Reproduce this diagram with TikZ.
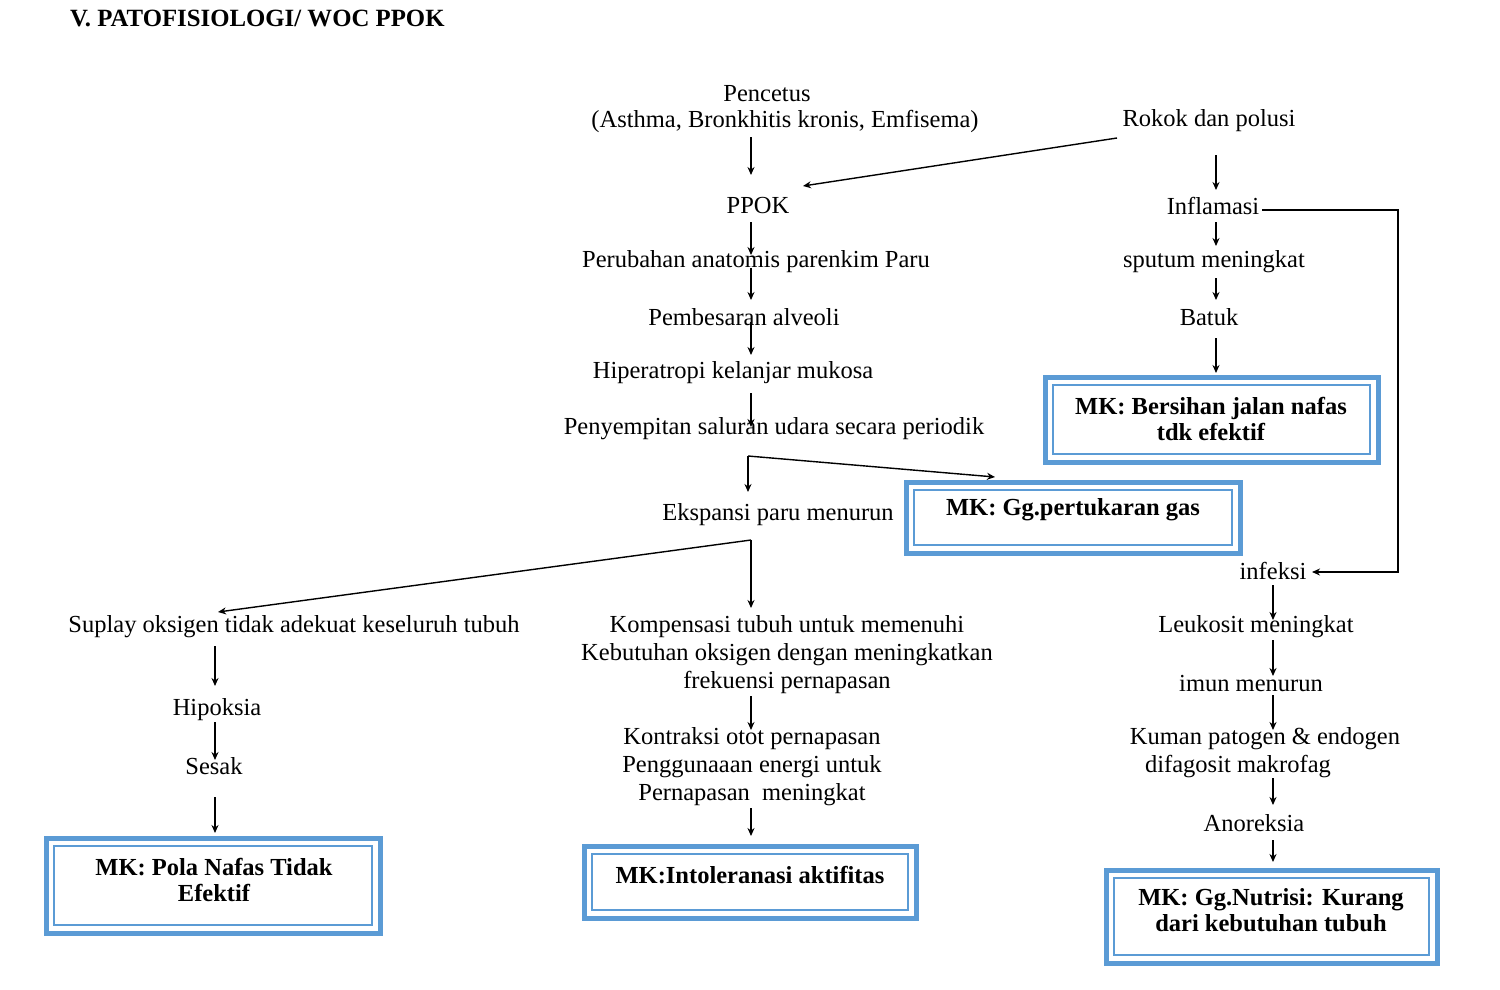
\documentclass[tikz,border=0pt]{standalone}
\usepackage{fontspec}
\setmainfont{Liberation Serif}
\usetikzlibrary{arrows.meta}
\definecolor{bx}{RGB}{91,155,213}
\begin{document}
\begin{tikzpicture}[x=1pt,y=-1pt,
 t/.style={font=\fontsize{24.5}{28}\selectfont,inner sep=0pt,align=center},
 mk/.style={font=\fontsize{24.5}{26}\selectfont\bfseries,inner sep=0pt,align=center},
 ar/.style={-{Stealth[length=8pt,width=7pt]},line width=1.4pt},
 ob/.style={draw=bx,line width=5pt},
 ib/.style={draw=bx,line width=2pt}]
\useasboundingbox (0,0) rectangle (1500,989);
\node[anchor=west,font=\fontsize{24.8}{26}\selectfont\bfseries,inner sep=0pt] (title) at (70,18) {V. PATOFISIOLOGI/ WOC PPOK};
\node[t] (pc) at (767,94) {Pencetus};
\node[t] (as) at (785,121) {(Asthma, Bronkhitis kronis, Emfisema)};
\node[t] (rk) at (1209,121) {Rokok dan polusi};
\node[t] (pp) at (758,206) {PPOK};
\node[t] (inf) at (1213,206) {Inflamasi};
\node[t] (pr) at (756,262) {Perubahan anatomis parenkim Paru};
\node[t] (sp) at (1214,262) {sputum meningkat};
\node[t] (pb) at (744,317) {Pembesaran alveoli};
\node[t] (bt) at (1209,317) {Batuk};
\node[t] (hp) at (733,373) {Hiperatropi kelanjar mukosa};
\node[t] (ps) at (774,429) {Penyempitan saluran udara secara periodik};
\node[t] (ek) at (778,515) {Ekspansi paru menurun};
\node[t] (ik) at (1273,571) {infeksi};
\node[t] (su) at (294,627) {Suplay oksigen tidak adekuat keseluruh tubuh};
\node[t] (ko) at (787,655) {Kompensasi tubuh untuk memenuhi\\Kebutuhan oksigen dengan meningkatkan\\frekuensi pernapasan};
\node[t] (le) at (1256,627) {Leukosit meningkat};
\node[t] (hi) at (217,710) {Hipoksia};
\node[t] (im) at (1251,683) {imun menurun};
\node[t] (se) at (214,766) {Sesak};
\node[t] (kt) at (752,767) {Kontraksi otot pernapasan\\Penggunaaan energi untuk\\Pernapasan\ \ meningkat};
\node[t] (ku) at (1265,739) {Kuman patogen \& endogen};
\node[t] (df) at (1238,767) {difagosit makrofag};
\node[t] (an) at (1254,823) {Anoreksia};
% boxes
\draw[ob] (1045,377) rectangle (1378,462); \draw[ib] (1053,385) rectangle (1370,454);
\node[mk] (b1) at (1211,419) {MK: Bersihan jalan nafas\\tdk efektif};
\draw[ob] (906,482) rectangle (1240,553); \draw[ib] (914,490) rectangle (1232,545);
\node[mk] (b2) at (1073,510) {MK: Gg.pertukaran gas};
\draw[ob] (46,838) rectangle (380,933); \draw[ib] (54,846) rectangle (372,925);
\node[mk] (b3) at (214,880) {MK: Pola Nafas Tidak\\Efektif};
\draw[ob] (584,846) rectangle (916,918); \draw[ib] (592,854) rectangle (908,910);
\node[mk] (b4) at (750,875) {MK:Intoleranasi aktifitas};
\draw[ob] (1106,870) rectangle (1437,963); \draw[ib] (1114,878) rectangle (1429,955);
\node[mk] (b5) at (1271,910) {MK: Gg.Nutrisi: Kurang\\dari kebutuhan tubuh};
% arrows
\draw[ar] (751,137) -- (751,175);
\draw[ar] (1117,138) -- (803,186);
\draw[ar] (1216,155) -- (1216,190);
\draw[ar] (751,222) -- (751,255);
\draw[ar] (751,268) -- (751,300);
\draw[ar] (751,322) -- (751,355);
\draw[ar] (751,393) -- (751,427);
\draw[ar] (748,456) -- (748,492);
\draw[ar] (748,456) -- (995,477);
\draw[ar] (751,540) -- (751,608);
\draw[ar] (751,540) -- (218,612);
\draw[ar] (215,646) -- (215,686);
\draw[ar] (215,722) -- (215,760);
\draw[ar] (215,797) -- (215,833);
\draw[ar] (751,696) -- (751,730);
\draw[ar] (751,808) -- (751,836);
\draw[ar] (1262,210) -- (1398,210) -- (1398,572) -- (1312,572);
\draw[ar] (1216,222) -- (1216,246);
\draw[ar] (1216,278) -- (1216,300);
\draw[ar] (1216,338) -- (1216,373);
\draw[ar] (1273,585) -- (1273,620);
\draw[ar] (1273,640) -- (1273,676);
\draw[ar] (1273,695) -- (1273,730);
\draw[ar] (1273,778) -- (1273,805);
\draw[ar] (1273,840) -- (1273,862);
\end{tikzpicture}
\end{document}
